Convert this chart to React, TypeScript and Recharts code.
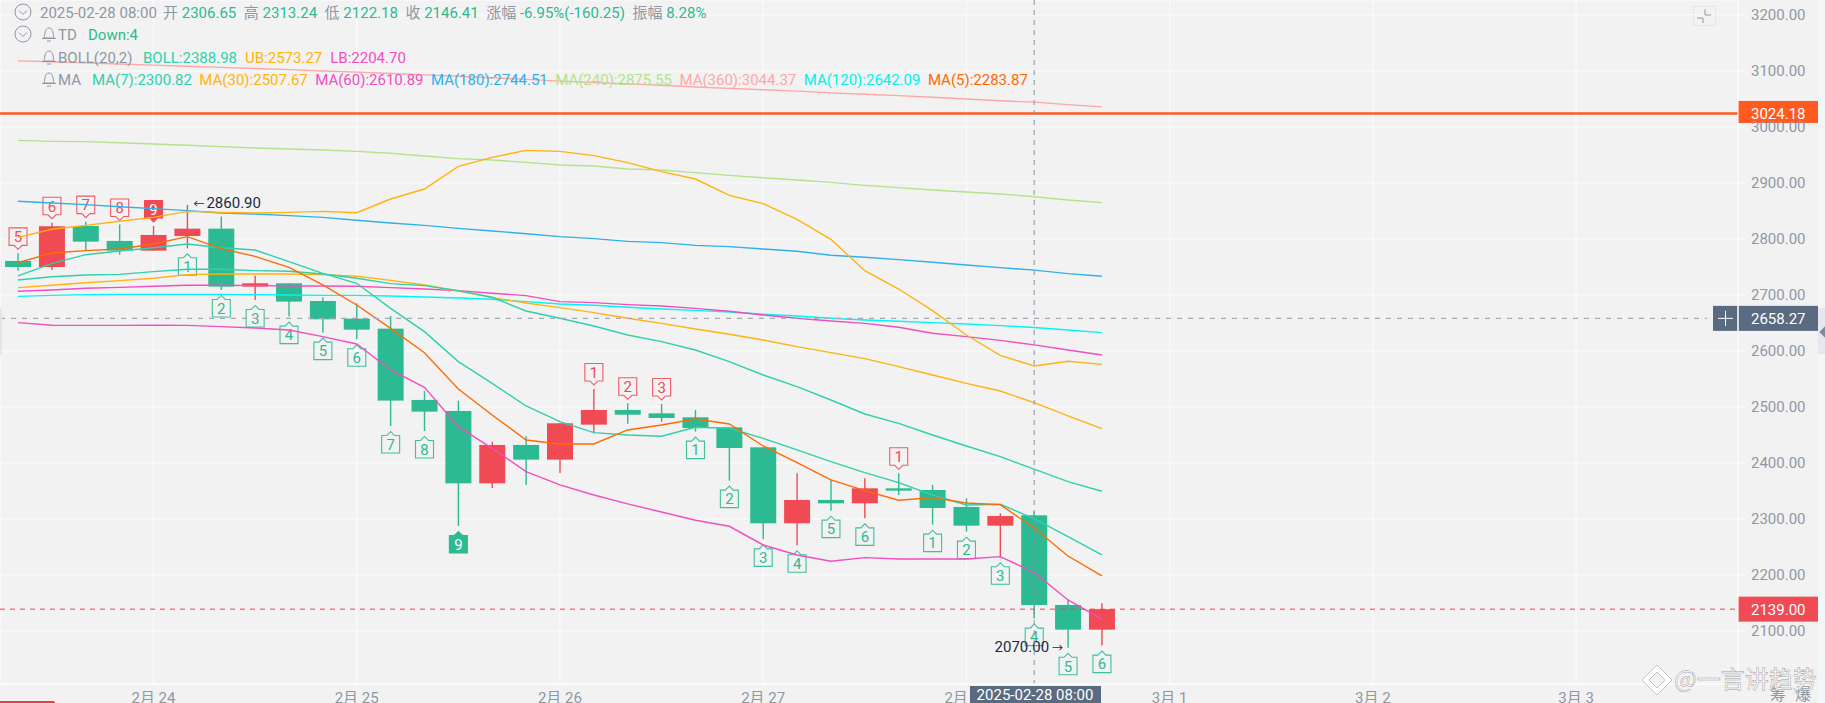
import React from 'react';
import { ComposedChart, Bar, Line, XAxis, YAxis, CartesianGrid, ReferenceLine } from 'recharts';

const FONT = 'Roboto, "Noto Sans CJK SC", sans-serif';
const UP = '#f04a55';
const DOWN = '#2cba92';
const GRAY = '#8f97a5';

// 4h candles, 2025-02-23 08:00 onward
const opens = [2760.8, 2750, 2823.3, 2796.5, 2779.2, 2805.4, 2818.5, 2714.9, 2720.9, 2689.3, 2657.8, 2639.9, 2512.6, 2492.9, 2363.7, 2432.2, 2406, 2468.5, 2494.7, 2488.7, 2481.6, 2463.7, 2428, 2292.3, 2334, 2328, 2354.8, 2351.8, 2321.5, 2288.1, 2306.65, 2146.5, 2102.4];
const closes = [2750, 2822.7, 2795.3, 2779.2, 2807.2, 2818.5, 2714.9, 2720.9, 2688.2, 2656.6, 2638.1, 2511.4, 2491.7, 2363.7, 2432.2, 2406, 2470.9, 2494.7, 2486.3, 2480.4, 2462.5, 2426.8, 2292.3, 2334, 2328, 2354.8, 2350.6, 2319.7, 2288.1, 2305.4, 2146.41, 2102.4, 2139];
const highs = [2774.4, 2829, 2831, 2826, 2823.3, 2860.9, 2840, 2734.6, 2721, 2696, 2685.2, 2662.6, 2528.6, 2511.3, 2438, 2448.2, 2470.9, 2532.2, 2506.6, 2505.4, 2494.7, 2463.7, 2428, 2381.6, 2369.7, 2372.6, 2381.6, 2360.7, 2336.9, 2310.2, 2313.24, 2155.4, 2149.4];
const lows = [2743.5, 2744.7, 2780.4, 2772, 2779, 2783.4, 2709, 2691.1, 2661.4, 2632.8, 2620.9, 2466, 2457.2, 2287.5, 2355.4, 2360.7, 2382, 2453, 2470.3, 2473.8, 2456, 2368.5, 2263.7, 2253, 2314.9, 2301.2, 2342.9, 2289.9, 2277.4, 2231.6, 2122.18, 2070, 2073.9];

const ma5 = [2757.8, 2775, 2779.2, 2782.2, 2791.1, 2804.2, 2782.8, 2769, 2749.4, 2717.9, 2682.2, 2640.5, 2597, 2532.2, 2485.7, 2441.1, 2434, 2434, 2459, 2467.9, 2478.6, 2469.7, 2430.4, 2400.6, 2369.7, 2350.6, 2333.4, 2338.1, 2328.6, 2325.6, 2283.87, 2233.9, 2198.3];
const ma7 = [2734, 2756, 2772, 2778.6, 2784.5, 2791.1, 2784.5, 2780.4, 2759.5, 2738.7, 2720.9, 2676.2, 2634.6, 2581, 2542.3, 2501.8, 2473.8, 2454.2, 2450.1, 2447.7, 2463.8, 2462, 2444.1, 2423.3, 2402.5, 2382.8, 2365, 2342.9, 2325.1, 2326.3, 2300.82, 2268.5, 2235.8];
const ma30 = [2713.1, 2717.3, 2722, 2725.6, 2729.8, 2736.3, 2737.5, 2737.5, 2737.5, 2736.3, 2733.4, 2726.2, 2717.9, 2707.2, 2695.3, 2685.7, 2677.4, 2668.5, 2658.4, 2649.4, 2639.3, 2629.8, 2619.7, 2607.8, 2597.1, 2586.3, 2572, 2557.2, 2542.3, 2528.6, 2507.67, 2484, 2461.3];
const ma60 = [2706.6, 2709, 2712, 2713.7, 2715.5, 2717.3, 2717.3, 2716.7, 2716.1, 2716.1, 2715.5, 2713.1, 2710.7, 2707.8, 2703, 2698.8, 2688.1, 2686.3, 2682.8, 2680.4, 2676.2, 2670.9, 2664.3, 2658.4, 2653.6, 2649.4, 2642.3, 2631.6, 2625.6, 2619, 2610.89, 2601.8, 2592.9];
const ma120 = [2697.6, 2699.4, 2700.6, 2701.2, 2701.2, 2701.2, 2701.2, 2700.6, 2700, 2699.4, 2699.4, 2698.2, 2696.4, 2694.6, 2692.3, 2688.1, 2684, 2681.6, 2678, 2675, 2672.6, 2669.7, 2665.5, 2662.5, 2658.4, 2655.4, 2653, 2650.6, 2648.2, 2645.3, 2642.09, 2637.5, 2632.8];
const ma180 = [2867.3, 2864.3, 2861.3, 2857.7, 2854.2, 2850.6, 2846.4, 2844.6, 2841.7, 2838.7, 2833.4, 2828.6, 2824.4, 2819, 2814.3, 2809.5, 2804.2, 2800.6, 2795.8, 2793.5, 2788.7, 2786.3, 2782.2, 2778, 2770.9, 2767.3, 2763.1, 2758.4, 2753.6, 2748.8, 2744.51, 2738.1, 2733.4];
const ma240 = [2976.2, 2974.4, 2973.8, 2972, 2969.6, 2967.3, 2964.9, 2962.5, 2960.7, 2959, 2956.5, 2953, 2948.2, 2943.5, 2941, 2936.9, 2932.1, 2930.4, 2925, 2923.2, 2918.5, 2913.7, 2909.5, 2905.4, 2901.2, 2895.8, 2891.7, 2887.5, 2884, 2880.4, 2875.55, 2869.6, 2864.9];
const ma360 = [3118, 3116.5, 3114.5, 3112.5, 3110.5, 3108.5, 3106.5, 3104.5, 3102.5, 3100, 3098, 3095.5, 3093, 3090.5, 3088, 3085, 3082, 3079.5, 3077, 3074.5, 3071.5, 3069, 3066.5, 3064, 3061, 3058.5, 3056, 3053, 3050, 3047, 3044.37, 3040, 3036];
const bollMid = [2726.8, 2732.7, 2735.7, 2736.9, 2741.7, 2745.9, 2745.9, 2743.5, 2742.3, 2737.5, 2729.8, 2720.3, 2716.7, 2707.8, 2695.9, 2671.4, 2658.4, 2644.7, 2628.6, 2616.7, 2601.8, 2581, 2557.2, 2536.3, 2512.5, 2487.5, 2470.9, 2450, 2430.4, 2411.4, 2388.98, 2366.7, 2349.5];
const bollUp = [2803, 2817.3, 2824.4, 2831.6, 2838.7, 2849.4, 2847.6, 2846.4, 2847.6, 2849.4, 2847, 2871.4, 2889.3, 2929.8, 2945.8, 2958.3, 2956.5, 2948.8, 2936.3, 2920.2, 2907.1, 2878, 2863.1, 2835.1, 2799.4, 2743.5, 2710.7, 2672, 2628.6, 2592.3, 2573.27, 2581.6, 2576.2];
const bollLow = [2650.6, 2645.9, 2645.8, 2645.8, 2645.9, 2645.7, 2643.5, 2641.1, 2637.5, 2625.6, 2612.5, 2566.1, 2535.2, 2464.9, 2426.2, 2384.6, 2360.8, 2342.9, 2326.9, 2312.6, 2297.7, 2287, 2253.6, 2235.8, 2224.5, 2231, 2228.6, 2228.6, 2228.6, 2232.8, 2204.7, 2155.4, 2121.4];

// TD sequential counts, 0 = no marker. Sell counts sit above the candle, buy counts below.
const tdCounts = [5, 6, 7, 8, 9, 1, 2, 3, 4, 5, 6, 7, 8, 9, 0, 0, 0, 1, 2, 3, 1, 2, 3, 4, 5, 6, 1, 1, 2, 3, 4, 5, 6];
const tdAbove = [1, 1, 1, 1, 1, 0, 0, 0, 0, 0, 0, 0, 0, 0, 0, 0, 0, 1, 1, 1, 0, 0, 0, 0, 0, 0, 1, 0, 0, 0, 0, 0, 0];

const priceTicks = [2100, 2200, 2300, 2400, 2500, 2600, 2700, 2800, 2900, 3000, 3100, 3200];
const dayTicks = [4, 10, 16, 22, 28, 34, 40, 46];
const dayLabels = ['2月 24', '2月 25', '2月 26', '2月 27', '2月 28', '3月 1', '3月 2', '3月 3'];

const ohlcRow = [
  ['开', '2306.65'], ['高', '2313.24'], ['低', '2122.18'], ['收', '2146.41'], ['涨幅', '-6.95%(-160.25)'], ['振幅', '8.28%'],
];
const bollRow = [['BOLL:2388.98', '#2fd0ae'], ['UB:2573.27', '#ffb30f'], ['LB:2204.70', '#f04fc0']];
const maRow = [
  ['MA(7):2300.82', '#2fd0ae'], ['MA(30):2507.67', '#ffb30f'], ['MA(60):2610.89', '#f04fc0'], ['MA(180):2744.51', '#2eb0ea'],
  ['MA(240):2875.55', '#b4e28c'], ['MA(360):3044.37', '#ffa6a6'], ['MA(120):2642.09', '#00f0f0'], ['MA(5):2283.87', '#ff6a00'],
];

const klines = opens.map((open, i) => ({
  idx: i, open, close: closes[i], high: highs[i], low: lows[i], td: tdCounts[i], above: tdAbove[i],
  ma5: ma5[i], ma7: ma7[i], ma30: ma30[i], ma60: ma60[i], ma120: ma120[i], ma180: ma180[i], ma240: ma240[i], ma360: ma360[i],
  bollMid: bollMid[i], bollUp: bollUp[i], bollLow: bollLow[i],
}));

const lineSeries = [
  ['ma360', '#ffa6a6'], ['ma240', '#b4e28c'], ['ma180', '#2eb0ea'], ['ma120', '#00f5f5'], ['ma60', '#f04fc0'], ['ma30', '#ffb30f'],
  ['ma7', '#2fd0ae'], ['bollMid', '#2fd0ae'], ['bollUp', '#ffb30f'], ['bollLow', '#f04fc0'], ['ma5', '#ff6a00'],
];

function TdMarker({ cx, tip, above, count }: any) {
  const color = above ? UP : DOWN;
  const filled = count === 9;
  const w = 9;
  const dir = above ? -1 : 1;
  const near = tip + dir * 4;
  const far = near + dir * 17.5;
  const d = `M${cx - w},${near} L${cx - 4},${near} L${cx},${tip} L${cx + 4},${near} L${cx + w},${near} L${cx + w},${far} L${cx - w},${far} Z`;
  return (
    <g>
      <path d={d} fill={filled ? color : 'none'} stroke={color} strokeWidth={1.1} opacity={filled ? 1 : 0.9} />
      <text x={cx} y={(near + far) / 2 + 5.5} textAnchor="middle" fontSize={15} fontFamily={FONT} fill={filled ? '#fff' : color}>{count}</text>
    </g>
  );
}

// Bar range is [low, high], so y/height already come from the price axis
function Candle(props: any) {
  const { x, y, width, height, payload } = props;
  const { open, close, high, low, td, above } = payload;
  const perUnit = height / (high - low);
  const toY = (v: number) => y + (high - v) * perUnit;
  const color = close >= open ? UP : DOWN;
  const cx = x + width / 2;
  const top = toY(Math.max(open, close));
  const bottom = toY(Math.min(open, close));
  const bottomY = y + height;
  return (
    <g>
      <line x1={cx} x2={cx} y1={y} y2={bottomY} stroke={color} strokeWidth={1.4} />
      <rect x={x} y={top} width={width} height={Math.max(bottom - top, 1)} fill={color} />
      {td > 0 && <TdMarker cx={cx} tip={above ? y - 4 : bottomY + 5.5} above={above} count={td} />}
      {high === Math.max(...highs) && (
        <g fontFamily={FONT} fill="#1c2a44">
          <text x={cx + 6} y={y + 3} fontSize={11}>←</text>
          <text x={cx + 19} y={y + 3} fontSize={15}>{high.toFixed(2)}</text>
        </g>
      )}
      {low === Math.min(...lows) && (
        <g fontFamily={FONT} fill="#1c2a44">
          <text x={cx - 19} y={bottomY + 4} textAnchor="end" fontSize={15}>{low.toFixed(2)}</text>
          <text x={cx - 16} y={bottomY + 4} fontSize={11}>→</text>
        </g>
      )}
    </g>
  );
}

function PriceTag({ x, y, fill, label, h = 25 }: any) {
  return (
    <g>
      <rect x={x} y={y - 12.5} width={80} height={h} fill={fill} />
      <text x={x + 13} y={y + 5.5} fontSize={15} fontFamily={FONT} fill="#fff">{label}</text>
    </g>
  );
}

function LastLine(props: any) {
  const { x1, x2, y1 } = props;
  const right = Math.max(x1, x2);
  return (
    <g>
      <line x1={0} x2={right} y1={y1} y2={y1} stroke="#ff5a1f" strokeWidth={2.4} />
      <PriceTag x={right} y={y1} fill="#ff5a1f" label="3024.18" h={22} />
    </g>
  );
}

function CrossPrice(props: any) {
  const { x1, x2, y1 } = props;
  const right = Math.max(x1, x2);
  return (
    <g>
      <line x1={0} x2={right - 31} y1={y1} y2={y1} stroke="#a4a9b3" strokeWidth={1.4} strokeDasharray="5 6" />
      <rect x={right - 25} y={y1 - 12.5} width={25} height={25} fill="#5a6a80" />
      <path d={`M${right - 20},${y1} h15 M${right - 12.5},${y1 - 7.5} v15`} stroke="#fff" strokeWidth={1} />
      <PriceTag x={right} y={y1} fill="#5a6a80" label="2658.27" />
      <line x1={right} x2={right} y1={y1 - 12.5} y2={y1 + 12.5} stroke="#f4f4f4" strokeWidth={1} />
    </g>
  );
}

function RedLine(props: any) {
  const { x1, x2, y1 } = props;
  const right = Math.max(x1, x2);
  return (
    <g>
      <line x1={0} x2={right} y1={y1} y2={y1} stroke="#f5404f" strokeWidth={1} strokeDasharray="5 5" />
      <PriceTag x={right} y={y1} fill={UP} label="2139.00" />
    </g>
  );
}

function CrossTime(props: any) {
  const { x1, y1, y2 } = props;
  return <line x1={x1} x2={x1} y1={0} y2={Math.max(y1, y2)} stroke="#8a94a6" strokeWidth={1} strokeDasharray="5 5" />;
}

function Chevron() {
  return (
    <svg width={18} height={18} style={{ position: 'absolute', left: 14, top: -1 }}>
      <circle cx={9} cy={9} r={8} fill="none" stroke={GRAY} strokeWidth={1} />
      <path d="M5,7.5 L9,11.5 L13,7.5" fill="none" stroke={GRAY} strokeWidth={1} />
    </svg>
  );
}

function Bell() {
  return (
    <svg width={16} height={17} style={{ position: 'absolute', left: 41, top: 0 }}>
      <path d="M3,12 C4,9 3.5,2 8,2 C12.5,2 12,9 13,12 Z M1,12.5 H15 M6,15 H10" fill="none" stroke={GRAY} strokeWidth={1} />
    </svg>
  );
}

const rowStyle = (top: number): React.CSSProperties => ({
  position: 'absolute', left: 0, top, height: 18, lineHeight: '18px', fontSize: 15, fontFamily: FONT, whiteSpace: 'nowrap', color: GRAY,
});

function Header() {
  return (
    <>
      <div style={rowStyle(4)}>
        <Chevron />
        <span style={{ position: 'absolute', left: 40 }}>2025-02-28 08:00</span>
        <span style={{ position: 'absolute', left: 163, display: 'flex', gap: 7.5 }}>
          {ohlcRow.map(([name, val]) => (
            <span key={name}>{name} <span style={{ color: DOWN }}>{val}</span></span>
          ))}
        </span>
      </div>
      <div style={rowStyle(26)}>
        <Chevron />
        <Bell />
        <span style={{ position: 'absolute', left: 58 }}>TD</span>
        <span style={{ position: 'absolute', left: 88, color: DOWN }}>Down:4</span>
      </div>
      <div style={rowStyle(49)}>
        <Bell />
        <span style={{ position: 'absolute', left: 58 }}>BOLL(20,2)</span>
        <span style={{ position: 'absolute', left: 143, display: 'flex', gap: 8 }}>
          {bollRow.map(([t, c]) => <span key={t} style={{ color: c }}>{t}</span>)}
        </span>
      </div>
      <div style={rowStyle(71)}>
        <Bell />
        <span style={{ position: 'absolute', left: 58 }}>MA</span>
        <span style={{ position: 'absolute', left: 92, display: 'flex', gap: 7.4 }}>
          {maRow.map(([t, c]) => <span key={t} style={{ color: c }}>{t}</span>)}
        </span>
      </div>
    </>
  );
}

function Decorations() {
  return (
    <>
      <svg width={24} height={21} style={{ position: 'absolute', left: 1693, top: 6 }}>
        <rect x={0.5} y={0.5} width={22} height={19} fill="none" stroke="#d8dbe0" strokeDasharray="1.5 1.5" />
        <path d="M12,3 V9 H18 M4,12 H10 V17" fill="none" stroke={GRAY} strokeWidth={1} />
      </svg>
      <div style={{ position: 'absolute', left: 0, top: 308, width: 2, height: 47, background: '#e4e5eb' }} />
      <div style={{ position: 'absolute', left: 1818, top: 0, width: 7, height: 703, background: '#f3f6f9' }} />
      <div style={{ position: 'absolute', left: 1818, top: 308, width: 7, height: 46, background: '#e6e8ee' }} />
      <div style={{ position: 'absolute', left: 1821, top: 328, width: 8, height: 8, background: '#7f8a9a', transform: 'rotate(45deg)' }} />
      <div style={{ position: 'absolute', left: 0, top: 701, width: 55, height: 2, background: '#e0404d', borderTopRightRadius: 2 }} />
      {/* crosshair time tag sits over the 2月 28 axis label */}
      <div style={{ position: 'absolute', left: 969.5, top: 686, width: 131, height: 17, lineHeight: '18px', background: '#5a6a80', color: '#fff', fontSize: 15, fontFamily: FONT, textAlign: 'center' }}>2025-02-28 08:00</div>
      <div style={{ position: 'absolute', left: 1770, top: 686, fontSize: 16, lineHeight: '18px', color: '#8f97a5', fontFamily: FONT, letterSpacing: 9 }}>筹爆</div>
      <svg width={32} height={32} style={{ position: 'absolute', left: 1641, top: 664 }}>
        <path d="M16,1 L31,16 L16,31 L1,16 Z M16,8 L24,16 L16,24 L8,16 Z" fill="#fff" fillRule="evenodd" stroke="#b5b8bd" strokeWidth={0.8} />
      </svg>
      <div style={{ position: 'absolute', left: 1674, top: 662, fontSize: 24, lineHeight: '32px', color: '#fff', WebkitTextStroke: '0.5px #9a9da3', fontFamily: '"Noto Sans CJK SC", sans-serif', whiteSpace: 'nowrap' }}>@一言讲趋势</div>
    </>
  );
}

export default function App() {
  return (
    <div style={{ position: 'absolute', left: 0, top: 0, width: 1825, height: 703, background: '#f2f2f2', overflow: 'hidden' }}>
      <ComposedChart width={1818} height={703} data={klines} margin={{ top: 0, right: 0, bottom: 0, left: 0 }}>
        <CartesianGrid stroke="#fbfbfb" strokeWidth={1.2} />
        <XAxis
          dataKey="idx"
          type="number"
          domain={[-0.531, 50.78]}
          allowDataOverflow
          ticks={dayTicks}
          tickFormatter={(v: number) => dayLabels[dayTicks.indexOf(v)]}
          height={19}
          axisLine={{ stroke: '#fbfbfb', strokeWidth: 1.5 }}
          tickLine={false}
          tickMargin={2}
          interval={0}
          tick={{ fill: GRAY, fontSize: 15, fontFamily: FONT }}
        />
        <YAxis
          orientation="right"
          type="number"
          domain={[2005.36, 3226.79]}
          allowDataOverflow
          ticks={priceTicks}
          tickFormatter={(v: number) => v.toFixed(2)}
          width={80}
          axisLine={{ stroke: '#fbfbfb', strokeWidth: 1.2 }}
          tickLine={{ stroke: '#fbfbfb', strokeWidth: 1.2 }}
          tickSize={7}
          tickMargin={6}
          interval={0}
          tick={{ fill: GRAY, fontSize: 15, fontFamily: FONT }}
        />
        <Bar dataKey={(d: any) => [d.low, d.high]} barSize={26} shape={Candle} isAnimationActive={false} />
        {lineSeries.map(([key, color]) => (
          <Line key={key} dataKey={key} stroke={color} strokeWidth={1.4} dot={false} activeDot={false} isAnimationActive={false} />
        ))}
        <ReferenceLine y={3024.18} shape={LastLine} />
        <ReferenceLine y={2658.27} shape={CrossPrice} />
        <ReferenceLine y={2139} shape={RedLine} />
        <ReferenceLine x={30} shape={CrossTime} />
      </ComposedChart>
      <Header />
      <Decorations />
    </div>
  );
}
